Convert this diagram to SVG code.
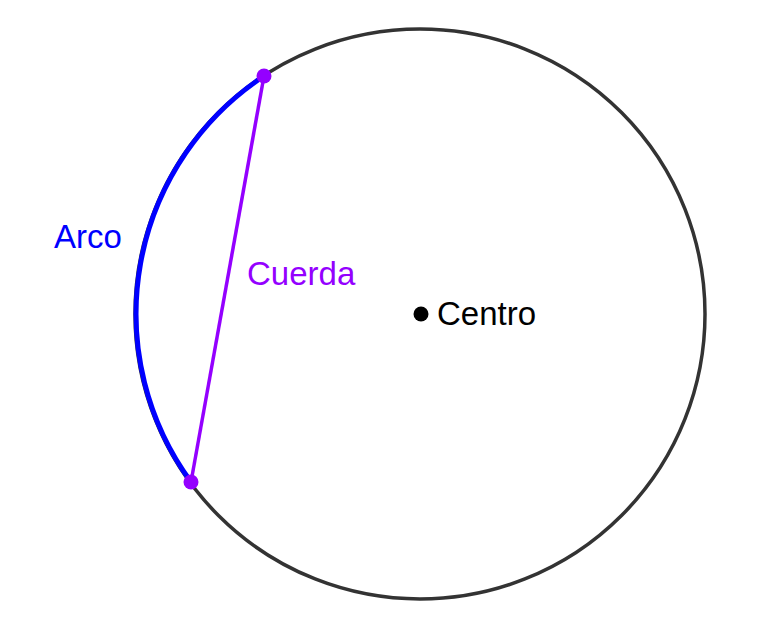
<svg xmlns="http://www.w3.org/2000/svg" width="768" height="626" viewBox="0 0 768 626">
<style>
text{font-family:"Liberation Sans",Arial,sans-serif;font-size:33px}
.circle{fill:none;stroke:#333333;stroke-width:3.5}
.arc{fill:none;stroke:#0000ff;stroke-width:5}
.chord{stroke:#9400ff;stroke-width:3.5;fill:none}
.pt{fill:#9400ff}
</style>
<rect width="768" height="626" fill="#ffffff"/>
<g id="circle"><circle class="circle" cx="420" cy="314" r="285"/></g>
<g id="connectors">
<path id="arc" class="arc" d="M 264 76 A 285 285 0 0 0 191 482"/>
<line id="chord" class="chord" x1="264" y1="76" x2="191" y2="482"/>
</g>
<g id="points">
<circle class="pt" cx="264" cy="76" r="7.5"/>
<circle class="pt" cx="191" cy="482" r="7.5"/>
</g>
<g id="centro">
<circle cx="421" cy="314" r="7.5" fill="#000000"/>
<text x="437" y="325" fill="#000000">Centro</text>
</g>
<g id="labels">
<text x="54" y="248" fill="#0000ff">Arco</text>
<text x="247" y="285" fill="#9400ff">Cuerda</text>
</g>
</svg>
